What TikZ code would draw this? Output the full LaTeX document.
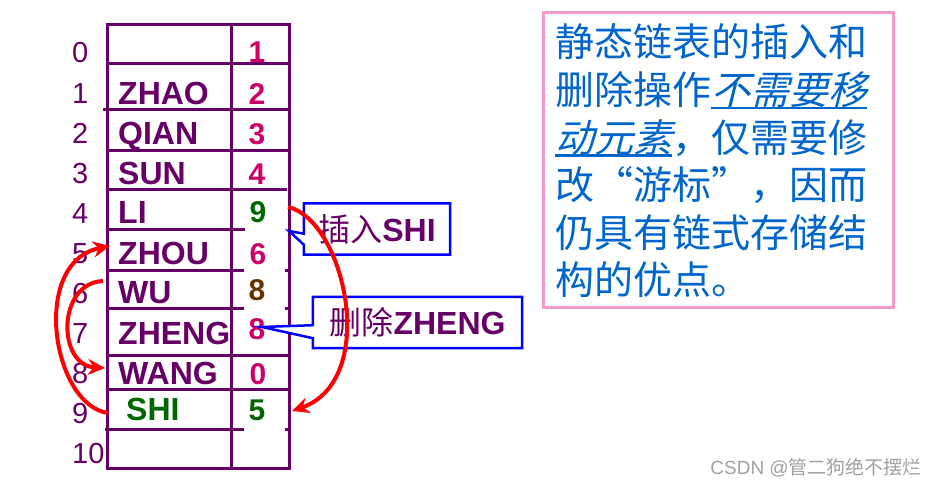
\documentclass[tikz,border=0pt]{standalone}
\usepackage{fontspec}
\setmainfont{Liberation Sans}
\newfontfamily\cjk{Noto Sans CJK SC}
\newfontfamily\cjkfull[CharacterWidth=Full]{Noto Sans CJK SC}
\newfontfamily\cjkslant[FakeSlant=0.25]{Noto Sans CJK SC}
\usetikzlibrary{arrows.meta,positioning}

\definecolor{tabpurple}{RGB}{102,0,102}
\definecolor{curmagenta}{RGB}{204,0,102}
\definecolor{curgreen}{RGB}{0,102,0}
\definecolor{curbrown}{RGB}{102,51,0}
\definecolor{noteblue}{RGB}{0,102,204}
\definecolor{notepink}{RGB}{243,153,204}
\definecolor{markgray}{RGB}{160,160,160}

% underline drawn as a rule under the box
\newcommand{\ulmark}[1]{\setbox0\hbox{#1}\rlap{\rule[-4.5pt]{\wd0}{2.5pt}}\box0}

\begin{document}
\begin{tikzpicture}[x=1pt,y=-1pt,
  tabline/.style={tabpurple,line width=3pt},
  idx/.style={anchor=base west,inner sep=0,text=tabpurple,font=\fontsize{29}{31}\selectfont},
  entry/.style={anchor=base west,inner sep=0,text=tabpurple,font=\fontsize{32}{34}\selectfont\bfseries},
  link/.style={anchor=base,inner sep=0,font=\fontsize{30}{32}\selectfont\bfseries},
  relink/.style={red,line width=4pt,-{Stealth[length=17pt,width=16pt]}},
  callout/.style={blue,line width=2.5pt,fill=white},
  tag/.style={inner sep=0,text=tabpurple,font=\fontsize{32}{34}\selectfont},
  noteline/.style={anchor=base west,inner sep=0,text=noteblue,font=\cjkfull\fontsize{39}{48}\selectfont}]
  \useasboundingbox (0,0) rectangle (938,487);

  % Table frame and rows
  \draw[tabline] (107,25) rectangle (289,468);
  \draw[tabline] (231,25) -- (231,468);
  \draw[tabline] (107,64) -- (289,64);
  \draw[tabline] (103,110) -- (289,110);
  \draw[tabline] (107,150) -- (289,150);
  \draw[tabline] (107,189) -- (287,189);
  \draw[tabline] (107,229) -- (245,229);
  \draw[tabline] (107,270) -- (244,270) (285,270) -- (289,270);
  \draw[tabline] (107,308) -- (244,308) (285,308) -- (289,308);
  \draw[tabline] (107,355) -- (289,355);
  \draw[tabline] (107,389) -- (289,389);
  \draw[tabline] (105,429) -- (244,429) (285,429) -- (289,429);

  % Indices
  \foreach \i in {0,...,10}
    \node[idx] (i\i) at (72,{63+40*\i}) {\i};

  % Data
  \node[entry] (n1) at (118,104) {ZHAO};
  \node[entry] (n2) at (118,144) {QIAN};
  \node[entry] (n3) at (118,184) {SUN};
  \node[entry] (n4) at (118,223) {LI};
  \node[entry] (n5) at (118,264) {ZHOU};
  \node[entry] (n6) at (118,303) {WU};
  \node[entry] (n7) at (118,344) {ZHENG};
  \node[entry] (n8) at (118,384) {WANG};
  \node[entry,text=curgreen] (n9) at (126,420) {SHI};

  % Cursors
  \node[link,text=curmagenta] (c0) at (257,63) {1};
  \node[link,text=curmagenta] (c1) at (257,104) {2};
  \node[link,text=curmagenta] (c2) at (257,144) {3};
  \node[link,text=curmagenta] (c3) at (257,184) {4};
  \node[link,text=curgreen] (c4) at (258,222) {9};
  \node[link,text=curmagenta] (c5) at (258,264) {6};
  \node[link,text=curbrown] (c6) at (257,300) {8};
  \node[link,text=curmagenta] (c7) at (257,339) {8};
  \node[link,text=curmagenta] (c8) at (258,384) {0};
  \node[link,text=curgreen] (c9) at (257,420) {5};

  % Callouts
  \coordinate (insTip) at (289,231);
  \coordinate (delTip) at (262,327);
  \node[minimum width=146pt,minimum height=51pt,inner sep=0] (ins) at (377,229) {};
  \draw[callout] (ins.south west) -- ([yshift=10pt]ins.south west) -- (insTip)
    -- ([yshift=21pt]ins.south west) -- (ins.north west) -- (ins.north east)
    -- (ins.south east) -- cycle;
  \node[tag] (insText) at (ins.center) {{\cjk 插入}\textbf{SHI}};
  \node[minimum width=209pt,minimum height=51pt,inner sep=0] (del) at (417.5,322.5) {};
  \draw[callout] (del.south west) -- ([yshift=10pt]del.south west) -- (delTip)
    -- ([yshift=23pt]del.south west) -- (del.north west) -- (del.north east)
    -- (del.south east) -- cycle;
  \node[tag] (delText) at (del.center) {{\cjk 删除}\textbf{ZHENG}};

  % Re-linking arrows
  \coordinate (liOut) at (288,207);
  \coordinate (shiIn) at (292,411);
  \coordinate (shiOut) at (108,413);
  \coordinate (zhouIn) at (110,246);
  \coordinate (wuOut) at (103,281);
  \coordinate (wangIn) at (105,368);
  \draw[relink] (liOut) .. controls (345,220) and (380,380) .. (shiIn);
  \draw[relink] (shiOut) .. controls (52,405) and (30,262) .. (zhouIn);
  \draw[relink] (wuOut) .. controls (57,283) and (57,365) .. (wangIn);

  % Note
  \node[draw=notepink,line width=3pt,minimum width=350pt,minimum height=294pt,inner sep=0] (note) at (718,160) {};
  \node[noteline] (l1) at (555,57) {静态链表的插入和};
  \node[noteline] (l2) at (555,105) {删除操作\ulmark{\cjkslant 不需要移}};
  \node[noteline] (l3) at (555,152) {\ulmark{\cjkslant 动元素}，仅需要修};
  \node[noteline] (l4) at (555,199) {改“游标”，因而};
  \node[noteline] (l5) at (555,247) {仍具有链式存储结};
  \node[noteline] (l6) at (555,294) {构的优点。};

  % Watermark
  \node[anchor=base east,inner sep=0,text=markgray,font=\fontsize{19}{21}\selectfont] (mark) at (922,474) {CSDN @{\cjk 管二狗绝不摆烂}};
\end{tikzpicture}
\end{document}
